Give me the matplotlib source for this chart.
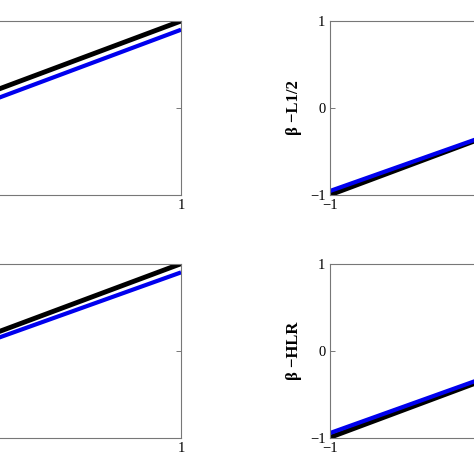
import matplotlib
matplotlib.use('Agg')
from matplotlib import pyplot as plt

plt.rcParams['font.family'] = ['Liberation Serif', 'DejaVu Serif']

# true beta on x, estimated beta on y (endpoints)
x_true = [-1, 1]
black_tl = [-1, 1]
blue_tl = [-1.1, 0.9]
black_bl = [-1, 1]
blue_bl = [-1.02, 0.90]
black_tr = [-1, 1]
blue_tr = [-0.955, 0.94]
black_br = [-1, 1]
blue_br = [-0.95, 0.97]

ticks = [-1, 0, 1]
tick_labels = ['\u22121', '0', '1']

fig = plt.figure(figsize=(4.74, 4.74), dpi=100)

# axes run past the figure edges, the picture is a crop of a wider figure
# (labels that would sit outside the crop are left blank)
panels = [
    ([-0.601, 0.5886, 0.983, 0.3671], black_tl, blue_tl, None, 'left'),
    ([0.6956, 0.5886, 0.983, 0.3671], black_tr, blue_tr, '\u03b2 \u2212L1/2', 'right'),
    ([-0.601, 0.0770, 0.983, 0.3667], black_bl, blue_bl, None, 'left'),
    ([0.6956, 0.0770, 0.983, 0.3667], black_br, blue_br, '\u03b2 \u2212HLR', 'right'),
]

for rect, black, blue, ylab, side in panels:
    ax = fig.add_axes(rect)
    ax.plot(x_true, black, color='black', lw=3.5, solid_capstyle='butt')
    ax.plot(x_true, blue, color='#0000ee', lw=3.0, solid_capstyle='butt')
    ax.set_xlim(-1, 1)
    ax.set_ylim(-1, 1)
    ax.set_xticks(ticks)
    ax.set_yticks(ticks)
    if side == 'left':
        ax.set_xticklabels(['', '', tick_labels[2]])
        ax.set_yticklabels(['', '', ''])
    else:
        ax.set_xticklabels([tick_labels[0], '', ''])
        ax.set_yticklabels(tick_labels)
    ax.tick_params(direction='in', length=3.5, width=0.7, color='#777777',
                   top=True, right=True, labelsize=10.5, pad=3)
    for s in ax.spines.values():
        s.set_color('#777777')
        s.set_linewidth(0.8)
    if ylab:
        ax.set_ylabel(ylab, fontsize=12, fontweight='bold', labelpad=6)

fig.savefig('out.png', dpi=100)
